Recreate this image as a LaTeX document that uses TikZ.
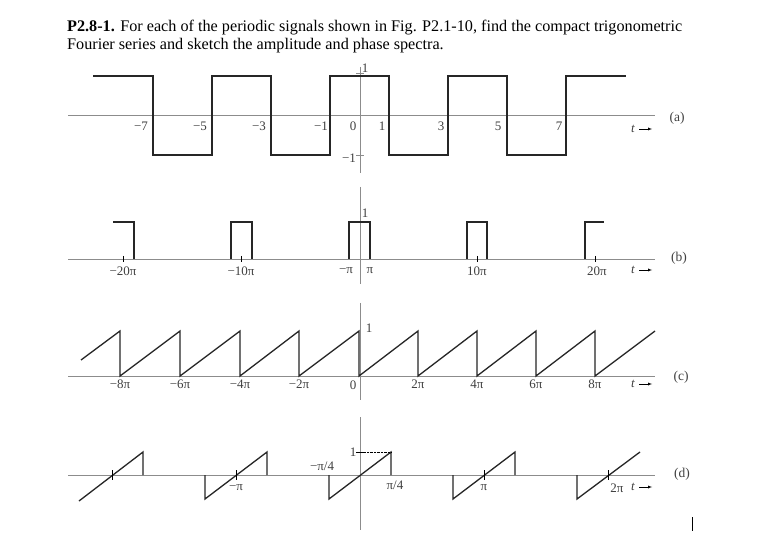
\documentclass[tikz,border=0pt]{standalone}
\usepackage{fontspec}
\setmainfont{Liberation Serif}
\begin{document}
\begin{tikzpicture}[x=1pt,y=-1pt,
  ax/.style={draw=black!45,line width=0.8pt},
  sig/.style={draw=black!85,line width=1.8pt,line join=miter},
  sig2/.style={draw=black!85,line width=1.3pt},
  lab/.style={font=\fontsize{13}{14}\selectfont,inner sep=1pt,text=black!75},
  tlab/.style={font=\fontsize{13}{14}\selectfont\itshape,inner sep=1pt,text=black!75},
  plab/.style={font=\fontsize{13.5}{14}\selectfont,inner sep=1pt,text=black!75}]
\useasboundingbox (0,0) rectangle (757,534);
\fill[white] (0,0) rectangle (757,534);
% title
\node[anchor=west,font=\fontsize{16.2}{18}\selectfont,inner sep=0pt] (t1) at (67,28) {\textbf{P2.8-1.} For each of the periodic signals shown in Fig. P2.1-10, find the compact trigonometric};
\node[anchor=west,font=\fontsize{16.2}{18}\selectfont,inner sep=0pt] (t2) at (67,46) {Fourier series and sketch the amplitude and phase spectra.};
% ---------- (a)
\draw[ax] (68,115) -- (655,115);
\draw[ax] (360,67) -- (360,173);
\draw[ax] (356,73) -- (364,73);
\draw[ax] (356,155) -- (364,155);
\draw[sig] (93,76) -- (153,76) -- (153,155) -- (212,155) -- (212,76) -- (271,76) -- (271,155) -- (330,155) -- (330,76) -- (389,76) -- (389,155) -- (448,155) -- (448,76) -- (507,76) -- (507,155) -- (566,155) -- (566,76) -- (626,76);
\foreach \x/\l/\n in {141/−7/m7,200/−5/m5,259/−3/m3,321/−1/m1,353/0/z,382/1/o,441/3/p3,498/5/p5,559/7/p7}
  \node[lab] (a\n) at (\x,126) {\l};
\node[lab] (a1t) at (365,68) {1};
\node[lab] (am1) at (349,158) {−1};
\node[tlab] (ta) at (633,129) {t};
\draw[-latex,thin] (639,129) -- (652,129);
\node[plab] (pa) at (677,118) {(a)};
% ---------- (b)
\draw[ax] (68,259) -- (655,259);
\draw[ax] (360,187) -- (360,284);
\draw[sig2] (113,222) -- (134,222) -- (134,259);
\draw[sig2] (231,259) -- (231,222) -- (252,222) -- (252,259);
\draw[sig2] (349,259) -- (349,222) -- (370,222) -- (370,259);
\draw[sig2] (467,259) -- (467,222) -- (487,222) -- (487,259);
\draw[sig2] (585,259) -- (585,222) -- (604,222);
\foreach \x in {123,241,477,595} \draw[line width=1pt] (\x,256) -- (\x,262);
\node[lab] (bm20) at (123,271) {−20π};
\node[lab] (bm10) at (241,271) {−10π};
\node[lab] (bmp) at (346,271) {−π};
\node[lab] (bp) at (370,271) {π};
\node[lab] (b10) at (477,271) {10π};
\node[lab] (b20) at (597,271) {20π};
\node[lab] (b1) at (365,213) {1};
\node[tlab] (tb) at (633,270) {t};
\draw[-latex,thin] (639,270) -- (652,270);
\node[plab] (pb) at (679,258) {(b)};
% ---------- (c)
\draw[ax] (68,376) -- (655,376);
\draw[ax] (360,303) -- (360,400);
\draw[sig2] (81,360) -- (120,331) -- (120,376)
  -- (180,331) -- (180,376) -- (240,331) -- (240,376) -- (299,331) -- (299,376)
  -- (359,331) -- (359,376) -- (418,331) -- (418,376) -- (477,331) -- (477,376)
  -- (536,331) -- (536,376) -- (595,331) -- (595,376) -- (655,331);
\foreach \x/\l/\n in {120/−8π/m8,180/−6π/m6,240/−4π/m4,299/−2π/m2,418/2π/p2,477/4π/p4,536/6π/p6,595/8π/p8}
  \node[lab] (c\n) at (\x,384) {\l};
\node[lab] (c0) at (353,385) {0};
\node[lab] (c1) at (369,328) {1};
\node[tlab] (tc) at (633,384) {t};
\draw[-latex,thin] (639,384) -- (652,384);
\node[plab] (pc) at (681,377) {(c)};
% ---------- (d)
\draw[ax] (68,475) -- (655,475);
\draw[ax] (360,417) -- (360,530);
\draw[sig2] (79,501) -- (143,452) -- (143,475);
\foreach \c in {236,360,484}
  \draw[sig2] (\c-31,475) -- (\c-31,499) -- (\c+31,452) -- (\c+31,475);
\draw[sig2] (577,475) -- (577,499) -- (640,452);
\foreach \x in {112,236,484,608} \draw[line width=1pt] (\x,470) -- (\x,480);
\draw[line width=0.8pt] (356,452) -- (364,452);
\draw[densely dotted,thin] (364,452) -- (391,452);
\node[lab] (d1) at (353,452) {1};
\node[lab] (dmp4) at (322,466) {−π/4};
\node[lab] (dp4) at (395,485) {π/4};
\node[lab] (dmp) at (236,488) {−π};
\node[lab] (dp) at (484,488) {π};
\node[lab] (d2p) at (617,488) {2π};
\node[tlab] (td) at (633,487) {t};
\draw[-latex,thin] (639,487) -- (652,487);
\node[plab] (pd) at (682,474) {(d)};
\draw[line width=1pt] (692,517) -- (692,531);
\end{tikzpicture}
\end{document}
